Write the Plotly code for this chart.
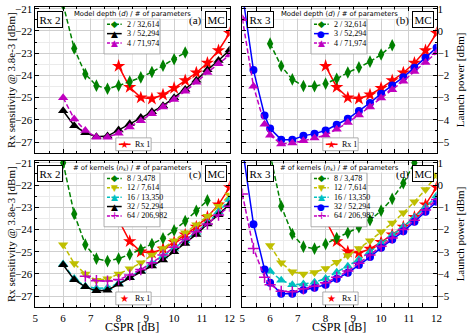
import plotly.graph_objects as go

W, H = 474, 333

# ---------------- data ----------------
cspr_rx1 = [8.0, 8.4, 8.8, 9.2, 9.6, 10.0, 10.4, 10.8, 11.2, 11.6, 12.0]
cspr_grid = [6.0, 6.4, 6.8, 7.2, 7.6, 8.0, 8.4, 8.8, 9.2, 9.6, 10.0, 10.4, 10.8, 11.2, 11.6, 12.0]
cspr_ext = [5.0, 5.4, 5.8, 6.0, 6.4, 6.8, 7.2, 7.6, 8.0, 8.4, 8.8, 9.2, 9.6, 10.0, 10.4, 10.8, 11.2, 11.6, 12.0]

rx1_sens = [-23.58, -24.53, -25.00, -25.05, -24.87, -24.57, -24.23, -23.88, -23.44, -22.88, -22.10]

# Rx 2 (left column)
rx2_d2 = [-20.80, -22.79, -23.94, -24.46, -24.60, -24.46, -24.28, -24.09, -23.85, -23.56, -23.27, -22.97]
rx2_d3 = [-25.59, -26.26, -26.58, -26.76, -26.73, -26.46, -26.17, -25.89, -25.64, -25.37, -25.00, -24.63,
          -24.22, -23.75, -23.33, -22.86]
rx2_d4 = [-25.00, -25.96, -26.48, -26.78, -26.78, -26.60, -26.32, -26.04, -25.73, -25.42, -25.08, -24.71,
          -24.31, -23.87, -23.48, -23.08]
rx2_k8 = [-21.00, -23.30, -24.68, -25.31, -25.42, -25.31, -25.12, -24.90, -24.65, -24.40, -24.04, -23.62,
          -23.16, -22.69]
rx2_k12 = [-24.68, -25.53, -26.00, -26.28, -26.22, -26.00, -25.77, -25.50, -25.15, -24.85, -24.50, -24.15,
           -23.78, -23.40, -22.95, -22.45]
rx2_k16 = [-25.55, -26.20, -26.55, -26.65, -26.62, -26.42, -26.15, -25.85, -25.52, -25.20, -24.85, -24.50,
           -24.12, -23.70, -23.20, -22.65]
rx2_k32 = rx2_d3
rx2_k64 = [-26.10, -26.30, -26.32, -26.25, -26.05, -25.80, -25.50, -25.15, -24.80, -24.45, -24.10, -23.75,
           -23.35, -22.95]

# Rx 3 (right column)
rx3_d2 = [-22.57, -23.58, -24.18, -24.48, -24.49, -24.37, -24.15, -23.87, -23.64, -23.38, -23.06, -22.64]
rx3_d3 = [-20.30, -23.76, -25.80, -26.39, -26.89, -26.89, -26.72, -26.62, -26.48, -26.22, -25.95, -25.60,
          -25.24, -24.82, -24.45, -24.08, -23.65, -23.20, -22.75]
rx3_d4 = [-21.45, -24.49, -26.20, -26.69, -27.09, -27.04, -26.94, -26.82, -26.69, -26.42, -26.12, -25.78,
          -25.42, -25.02, -24.64, -24.26, -23.82, -23.42, -22.98]
rx3_k8 = [-20.60, -22.95, -24.20, -24.77, -24.86, -24.65, -24.38, -24.15, -23.90, -23.58, -23.15, -22.62,
          -21.92, -21.00]
rx3_k12 = [-24.72, -25.50, -25.90, -26.00, -25.93, -25.75, -25.47, -25.17, -24.85, -24.50, -24.10, -23.71,
           -23.25, -22.75, -22.20, -21.55]
rx3_k16 = [-25.88, -26.28, -26.48, -26.45, -26.37, -26.20, -25.92, -25.65, -25.35, -25.00, -24.62, -24.25,
           -23.88, -23.45, -23.00, -22.48]
rx3_k32 = rx3_d3
rx3_k64 = [-22.40, -24.85, -26.15, -26.48, -26.78, -26.80, -26.67, -26.55, -26.40, -26.15, -25.87, -25.52,
           -25.15, -24.75, -24.38, -24.00, -23.58, -23.12, -22.65]

depth_labels = ["2 / 32,614", "3 / 52,294", "4 / 71,974"]
kernel_labels = ["8 / 3,478", "12 / 7,614", "16 / 13,350", "32 / 52,294", "64 / 206,982"]
rx1_label = "Rx 1"
y_ticks_sens = [-27, -26, -25, -24, -23, -22, -21]
launch_offset = 22  # launch power axis = Rx sensitivity axis + 22 dB

# ---------------- styles ----------------
GREEN, BLACK, BLUE, MAG, YEL, CYAN, RED = "#008000", "#000000", "#0000ff", "#bf00bf", "#bfbf00", "#00bfbf", "#ff0000"
DASH = "5px,2.5px"
STY = {
    "g": dict(color=GREEN, symbol="diamond-tall", size=9, dash=DASH, glyph="\u25c6"),
    "k": dict(color=BLACK, symbol="triangle-up", size=9, dash="solid", glyph="\u25b2"),
    "b": dict(color=BLUE, symbol="circle", size=8, dash="solid", glyph="\u25cf"),
    "m": dict(color=MAG, symbol="triangle-up", size=9, dash=DASH, glyph="\u25b2"),
    "y": dict(color=YEL, symbol="triangle-down", size=9, dash=DASH, glyph="\u25bc"),
    "c": dict(color=CYAN, symbol="triangle-up", size=9, dash=DASH, glyph="\u25b2"),
    "p": dict(color=MAG, symbol="cross-thin", size=8, dash=DASH, glyph="+"),
    "r": dict(color=RED, symbol="star", size=10, dash="solid", glyph="\u2605"),
}

panels = [
    dict(col=0, row=0, tag="(a)", rx="Rx 2", title="Model depth (<i>d</i>) / # of parameters", rx1_line=True,
         series=[("g", cspr_grid[:12], rx2_d2), ("k", cspr_grid, rx2_d3), ("m", cspr_grid, rx2_d4)],
         labels=depth_labels),
    dict(col=1, row=0, tag="(b)", rx="Rx 3", title="Model depth (<i>d</i>) / # of parameters", rx1_line=True,
         series=[("g", cspr_grid[:12], rx3_d2), ("b", cspr_ext, rx3_d3), ("m", cspr_ext, rx3_d4)],
         labels=depth_labels),
    dict(col=0, row=1, tag="(c)", rx="Rx 2", title="# of kernels (<i>n</i><sub>k</sub>) / # of parameters",
         rx1_line=False,
         series=[("g", cspr_grid[:14], rx2_k8), ("y", cspr_grid, rx2_k12), ("c", cspr_grid, rx2_k16),
                 ("k", cspr_grid, rx2_k32), ("p", cspr_grid[2:], rx2_k64)],
         labels=kernel_labels),
    dict(col=1, row=1, tag="(d)", rx="Rx 3", title="# of kernels (<i>n</i><sub>k</sub>) / # of parameters",
         rx1_line=False,
         series=[("g", cspr_grid[:14], rx3_k8), ("y", cspr_grid, rx3_k12), ("c", cspr_grid, rx3_k16),
                 ("b", cspr_ext, rx3_k32), ("p", cspr_ext, rx3_k64)],
         labels=kernel_labels),
]

# ---------------- geometry (pixels) ----------------
PL = {0: 33, 1: 244}
PT = {0: 3, 1: 159}
PW, PH = 198, 148
YR = [-27.5, -20.92]
XR = [5, 12]


def px(x):
    return x / W


def py(y):
    return 1 - y / H


SERIF = "Liberation Serif"
SANS = "DejaVu Sans"

fig = go.Figure()
layout = dict(width=W, height=H, margin=dict(l=0, r=0, t=0, b=0), paper_bgcolor="white",
              plot_bgcolor="white", showlegend=False)
shapes, annos = [], []


def note(text, x, y, xanchor="center", yanchor="middle", **kw):
    d = dict(text=text, x=px(x), y=py(y), xref="paper", yref="paper", showarrow=False,
             xanchor=xanchor, yanchor=yanchor)
    d.update(kw)
    annos.append(d)


axis_common = dict(showline=True, linecolor="black", linewidth=1, mirror="allticks", ticks="inside",
                   ticklen=4, tickcolor="black", showgrid=True, gridcolor="#cfcfcf", gridwidth=0.7,
                   zeroline=False, tickfont=dict(family=SERIF, size=11, color="black"),
                   minor=dict(dtick=0.5, showgrid=True, gridcolor="#ebebeb", gridwidth=0.6,
                              ticks="inside", ticklen=2, tickcolor="black"))

for i, p in enumerate(panels, start=1):
    sx = "" if i == 1 else str(i)
    x0, y0 = PL[p["col"]], PT[p["row"]]
    layout["xaxis" + sx] = dict(axis_common, domain=[px(x0), px(x0 + PW)], range=XR, dtick=1,
                                anchor="y" + sx, showticklabels=p["row"] == 1)
    layout["yaxis" + sx] = dict(axis_common, domain=[py(y0 + PH), py(y0)], range=YR, tickvals=y_ticks_sens,
                                anchor="x" + sx, showticklabels=p["col"] == 0)

    # reference Rx 1 curve
    s = STY["r"]
    fig.add_trace(go.Scatter(x=cspr_rx1, y=rx1_sens, mode="lines+markers", xaxis="x" + sx, yaxis="y" + sx,
                             line=dict(color=s["color"], width=1.5),
                             marker=dict(symbol=s["symbol"], size=s["size"], color=s["color"])))
    for key, xs, ys in p["series"]:
        s = STY[key]
        mk = dict(symbol=s["symbol"], size=s["size"], color=s["color"])
        if key == "p":
            mk["line"] = dict(color=s["color"], width=1.5)
        fig.add_trace(go.Scatter(x=xs, y=ys, mode="lines+markers", xaxis="x" + sx, yaxis="y" + sx,
                                 line=dict(color=s["color"], width=1.5, dash=s["dash"]), marker=mk))

    # right launch-power axis for right column
    if p["col"] == 1:
        k = 5 if p["row"] == 0 else 6
        layout["yaxis%d" % k] = dict(overlaying="y" + sx, anchor="x" + sx, side="right",
                                     range=[YR[0] + launch_offset, YR[1] + launch_offset], dtick=1,
                                     showgrid=False, zeroline=False, showline=False, ticks="",
                                     tickfont=dict(family=SERIF, size=11, color="black"))
        fig.add_trace(go.Scatter(x=[None], y=[None], xaxis="x" + sx, yaxis="y%d" % k, showlegend=False,
                                 hoverinfo="skip"))

    # corner boxes
    box = dict(font=dict(family=SERIF, size=11, color="black"), bordercolor="black", borderwidth=1,
               borderpad=1.5, bgcolor="white")
    note(p["rx"], x0 + (15 if p["col"] == 0 else 18), y0 + 13, **box)
    note("MC", x0 + 184, y0 + 13, **box)
    note(p["tag"], x0 + 163, y0 + 14, font=dict(family=SERIF, size=11, color="black"))
    # legend title
    note(p["title"], x0 + 99, y0 + 7, font=dict(family=SANS, size=6.8, color="black"), bgcolor="white",
         borderpad=0)
    # legend box
    n = len(p["labels"])
    bl, bt = x0 + 70, y0 + 12
    bh = 7 + 9.5 * n
    shapes.append(dict(type="rect", xref="paper", yref="paper", x0=px(bl), x1=px(bl + 57), y0=py(bt + bh),
                       y1=py(bt), fillcolor="white", line=dict(color="#999999", width=0.8), layer="above"))
    for j, ((key, _, _), lab) in enumerate(zip(p["series"], p["labels"])):
        s = STY[key]
        cy = bt + 5.5 + 9.5 * j
        shapes.append(dict(type="line", xref="paper", yref="paper", x0=px(bl + 3), x1=px(bl + 18),
                           y0=py(cy), y1=py(cy),
                           line=dict(color=s["color"], width=1.5,
                                     dash="3px,1.5px" if s["dash"] != "solid" else "solid"),
                           layer="above"))
        note(s["glyph"], bl + 10.5, cy,
             font=dict(family="DejaVu Sans", size=9 if key != "p" else 11, color=s["color"]))
        note(lab, bl + 21, cy, xanchor="left", font=dict(family=SERIF, size=8, color="black"))
    # Rx 1 legend
    cx, cy = x0 + 100, y0 + 139
    shapes.append(dict(type="rect", xref="paper", yref="paper", x0=px(cx - 18), x1=px(cx + 18),
                       y0=py(cy + 6.5), y1=py(cy - 6.5), fillcolor="white",
                       line=dict(color="#999999", width=0.8), layer="above"))
    if p["rx1_line"]:
        shapes.append(dict(type="line", xref="paper", yref="paper", x0=px(cx - 15), x1=px(cx - 3),
                           y0=py(cy), y1=py(cy), line=dict(color=RED, width=1.5), layer="above"))
    note(STY["r"]["glyph"], cx - 9, cy, font=dict(family="DejaVu Sans", size=10, color=RED))
    note(rx1_label, cx, cy, xanchor="left", font=dict(family=SERIF, size=8, color="black"))

# axis titles
for row in (0, 1):
    cyy = PT[row] + PH / 2
    note("Rx sensitivity @ 3.8e-3 [dBm]", 8, cyy, textangle=-90,
         font=dict(family=SERIF, size=11, color="black"))
    note("Launch power [dBm]", 466, cyy, textangle=-90, font=dict(family=SERIF, size=11, color="black"))
for col in (0, 1):
    note("CSPR [dB]", PL[col] + PW / 2, 327, font=dict(family=SERIF, size=12, color="black"))

layout["shapes"] = shapes
layout["annotations"] = annos
fig.update_layout(**layout)
fig.write_html("out.html")
